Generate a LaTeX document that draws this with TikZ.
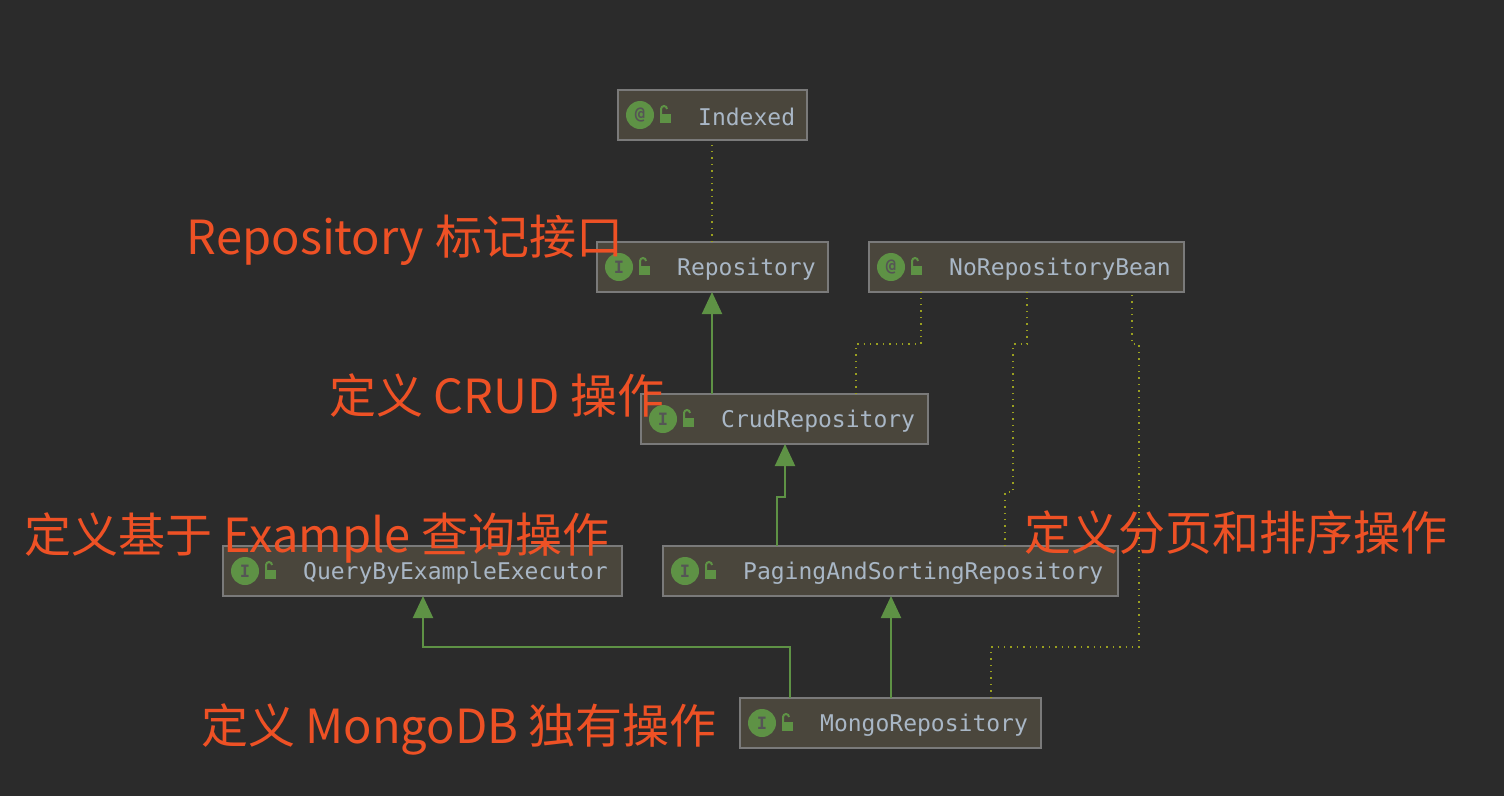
\documentclass[tikz,border=0pt]{standalone}
\usepackage{fontspec}
\newfontfamily\cjk{Noto Sans CJK SC}
\newfontfamily\mono{DejaVu Sans Mono}
\usetikzlibrary{arrows.meta}
\definecolor{bg}{HTML}{2B2B2B}
\definecolor{boxfill}{HTML}{4A463C}
\definecolor{boxline}{HTML}{7A7A7A}
\definecolor{txt}{HTML}{A9B7C6}
\definecolor{grn}{HTML}{5E9245}
\definecolor{dot}{HTML}{9AA020}
\definecolor{lbl}{HTML}{EE5125}
\tikzset{
  cls/.style={draw=boxline,fill=boxfill,line width=1.5pt,inner sep=0pt},
  ctext/.style={font=\mono\fontsize{23}{24}\selectfont,text=txt,anchor=west,inner sep=0pt},
  icon/.style={circle,fill=grn,minimum size=28pt,inner sep=0pt,font=\mono\bfseries\fontsize{17}{17}\selectfont,text=bg!80},
  dep/.style={dot,line width=1.4pt,dash pattern=on 1.4pt off 5pt},
  inh/.style={grn,line width=2pt,-{Triangle[width=20pt,length=22pt]}},
  lab/.style={font=\cjk\fontsize{47}{49}\selectfont,text=lbl,inner sep=0pt},
}
\newcommand\umlbox[7]{%
  \node[cls,minimum width=#4-#2,minimum height=#5-#3] (#1) at ({(#2+#4)/2},{(#3+#5)/2}) {};
  \node[icon] (#1i) at ({#2+22},{(#3+#5)/2}) {#6};
  \fill[grn] ({#2+42},{(#3+#5)/2-1}) rectangle ({#2+53},{(#3+#5)/2+8});
  \draw[grn,line width=2pt] ({#2+43},{(#3+#5)/2-1}) -- ({#2+43},{(#3+#5)/2-6}) arc (180:360:3);
  \node[ctext] (#1t) at ({#2+80},{(#3+#5)/2+2}) {#7};
}
\begin{document}
\begin{tikzpicture}[x=1pt,y=-1pt]
\fill[bg] (0,0) rectangle (1504,796);
\useasboundingbox (0,0) rectangle (1504,796);
\umlbox{idx}{618}{90}{807}{140}{@}{Indexed}
\umlbox{repo}{597}{242}{828}{292}{I}{Repository}
\umlbox{norb}{869}{242}{1184}{292}{@}{NoRepositoryBean}
\umlbox{crud}{641}{394}{928}{444}{I}{CrudRepository}
\umlbox{qbe}{223}{546}{622}{596}{I}{QueryByExampleExecutor}
\umlbox{page}{663}{546}{1118}{596}{I}{PagingAndSortingRepository}
\umlbox{mongo}{740}{698}{1041}{748}{I}{MongoRepository}
% dependencies
\draw[dep] (712,242) -- (712,140);
\draw[dep] (856,394) -- (856,344) -- (921,344) -- (921,292);
\draw[dep] (1005,546) -- (1005,492) -- (1013,492) -- (1013,344) -- (1027,344) -- (1027,292);
\draw[dep] (991,698) -- (991,647) -- (1139,647) -- (1139,344) -- (1132,344) -- (1132,292);
% inheritance
\draw[inh] (712,394) -- (712,292);
\draw[inh] (777,546) -- (777,497) -- (785,497) -- (785,444);
\draw[inh] (790,698) -- (790,647) -- (423,647) -- (423,596);
\draw[inh] (891,698) -- (891,596);
% labels
\node[lab] (l1) at (405,240) {Repository 标记接口};
\node[lab] (l2) at (497,396) {定义 CRUD 操作};
\node[lab] (l3) at (317,538) {定义基于 Example 查询操作};
\node[lab] (l4) at (1236,533) {定义分页和排序操作};
\node[lab] (l5) at (459,729) {定义 MongoDB 独有操作};
\end{tikzpicture}
\end{document}
